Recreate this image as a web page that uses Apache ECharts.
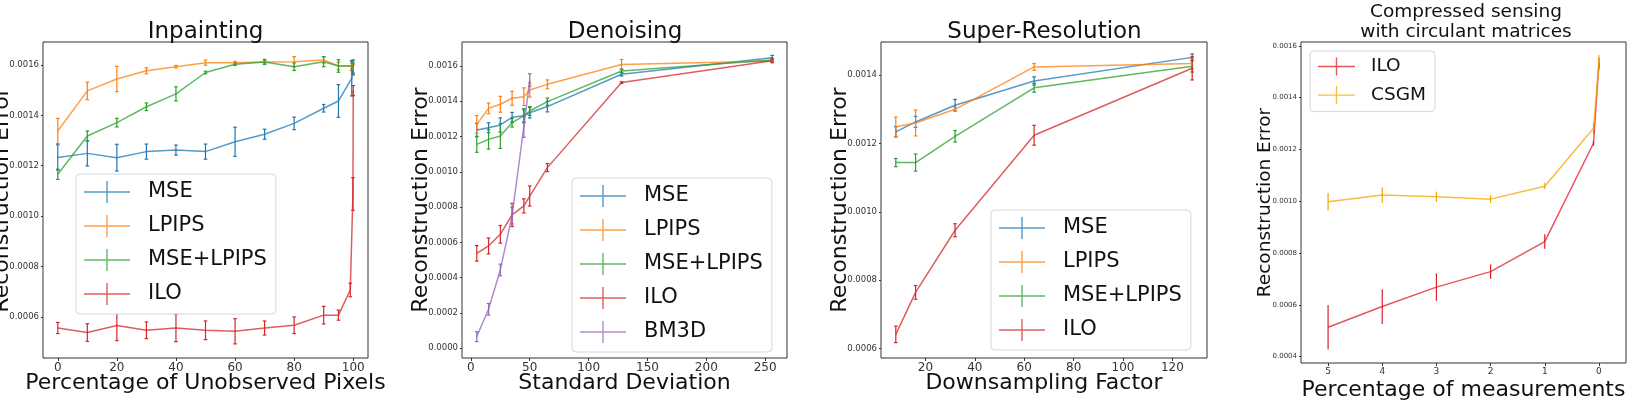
<!DOCTYPE html>
<html>
<head>
<meta charset="utf-8">
<title>Reconstruction error</title>
<script src="https://cdn.jsdelivr.net/npm/echarts@6/dist/echarts.min.js"></script>
<style>
  html, body { margin: 0; padding: 0; background: #fff; }
  #chart { width: 1635px; height: 400px; }
</style>
</head>
<body>
<div id="chart"></div>
<script>
// Inpainting
const inpX = [0, 10, 20, 30, 40, 50, 60, 70, 80, 90, 95, 99.5, 100]
const inpMse = [0.001233, 0.001249, 0.001232, 0.001256, 0.001262, 0.001256, 0.001295, 0.001325, 0.001368, 0.001428, 0.001457, 0.001547, 0.00159]
const inpMseErr = [0.00005, 0.00005, 0.000053, 0.00003, 0.00002, 0.00003, 0.000058, 0.00002, 0.000025, 0.000015, 0.000065, 0.00007, 0.00003]
const inpLpips = [0.001338, 0.001497, 0.001544, 0.001577, 0.001593, 0.001609, 0.001609, 0.001612, 0.001613, 0.00162, 0.001596, 0.001596, 0.00158]
const inpLpipsErr = [0.00005, 0.000035, 0.00005, 0.000012, 0.000005, 0.00001, 0.000005, 0.000005, 0.00002, 0.000013, 0.000015, 0.00001, 0.00002]
const inpBoth = [0.001166, 0.001318, 0.001371, 0.001434, 0.001485, 0.00157, 0.001603, 0.001612, 0.001593, 0.001613, 0.001596, 0.001596, 0.001587]
const inpBothErr = [0.00002, 0.00002, 0.000017, 0.000015, 0.000028, 0.000005, 0.000005, 0.00001, 0.000015, 0.00002, 0.000025, 0.000018, 0.00002]
const inpIloX = [0, 10, 20, 30, 40, 50, 60, 70, 80, 90, 95, 99, 99.9, 100]
const inpIlo = [0.000556, 0.000538, 0.000566, 0.000547, 0.000556, 0.000547, 0.000543, 0.000556, 0.000567, 0.000607, 0.000607, 0.000707, 0.001088, 0.001498]
const inpIloErr = [0.000022, 0.000035, 0.00006, 0.000033, 0.000054, 0.000037, 0.00005, 0.000028, 0.000033, 0.000035, 0.00002, 0.000027, 0.000065, 0.00002]
const inpXTicks = [0, 20, 40, 60, 80, 100]
const inpYTicks = [0.0006, 0.0008, 0.001, 0.0012, 0.0014, 0.0016]

// Denoising
const denX = [5, 15, 25, 35, 45, 50, 65, 128, 256]
const denMse = [0.001237, 0.00125, 0.001266, 0.001309, 0.001318, 0.001335, 0.00137, 0.001553, 0.001647]
const denMseErr = [0.000038, 0.000028, 0.00004, 0.000028, 0.00004, 0.00003, 0.00003, 0.00001, 0.000013]
const denLpips = [0.001269, 0.00136, 0.001383, 0.001417, 0.001426, 0.001464, 0.001496, 0.001609, 0.001628]
const denLpipsErr = [0.00005, 0.00003, 0.000045, 0.00004, 0.00005, 0.00004, 0.000025, 0.000028, 0.00001]
const denBoth = [0.001156, 0.001184, 0.001203, 0.001279, 0.001317, 0.001345, 0.001398, 0.001572, 0.001634]
const denBothErr = [0.000045, 0.000055, 0.00007, 0.000025, 0.000033, 0.000025, 0.00002, 0.00001, 0.00001]
const denIlo = [0.000538, 0.00058, 0.000646, 0.000756, 0.000807, 0.000863, 0.001024, 0.001506, 0.00163]
const denIloErr = [0.000044, 0.000045, 0.00005, 0.000066, 0.00004, 0.000057, 0.000023, 0.000005, 0.00001]
const denBm3dX = [5, 15, 25, 35, 45, 50]
const denBm3d = [0.000066, 0.000221, 0.000444, 0.000752, 0.001256, 0.001521]
const denBm3dErr = [0.000028, 0.000033, 0.000033, 0.000047, 0.00006, 0.000035]
const denXTicks = [0, 50, 100, 150, 200, 250]
const denYTicks = [0, 0.0002, 0.0004, 0.0006, 0.0008, 0.001, 0.0012, 0.0014, 0.0016]

// Super-Resolution
const srX = [8, 16, 32, 64, 128]
const srMse = [0.001234, 0.001263, 0.001312, 0.001383, 0.001452]
const srMseErr = [0.000015, 0.000016, 0.000017, 0.000012, 0.00001]
const srLpips = [0.001249, 0.00126, 0.0013, 0.001424, 0.001434]
const srLpipsErr = [0.000028, 0.000038, 0.000006, 0.00001, 0.000015]
const srBoth = [0.001144, 0.001144, 0.001221, 0.001363, 0.001426]
const srBothErr = [0.000012, 0.000025, 0.000017, 0.000013, 0.000017]
const srIlo = [0.000641, 0.000764, 0.000946, 0.001224, 0.00142]
const srIloErr = [0.000024, 0.00002, 0.000019, 0.000029, 0.000034]
const srXTicks = [20, 40, 60, 80, 100, 120]
const srYTicks = [0.0006, 0.0008, 0.001, 0.0012, 0.0014]

// Compressed sensing
const csX = [5, 4, 3, 2, 1, 0.1, 0]
const csIlo = [0.000513, 0.000593, 0.000668, 0.000728, 0.000844, 0.001224, 0.001534]
const csIloErr = [0.000086, 0.000067, 0.000053, 0.000028, 0.000028, 0.00001, 0.00002]
const csCsgm = [0.000998, 0.001024, 0.001017, 0.001008, 0.001058, 0.001282, 0.001535]
const csCsgmErr = [0.000034, 0.00003, 0.00002, 0.000015, 0.000012, 0.000022, 0.00003]
const csXTicks = [0, 1, 2, 3, 4, 5]
const csYTicks = [0.0004, 0.0006, 0.0008, 0.001, 0.0012, 0.0014, 0.0016]

const FONT = 'DejaVu Sans'
const colors = {
  MSE: '#1f77b4',
  LPIPS: '#ff7f0e',
  'MSE+LPIPS': '#2ca02c',
  ILO: '#d62728',
  BM3D: '#9467bd',
  csIlo: '#de1f26',
  CSGM: '#f5a500'
}

const crossIcon = (w, h) => {
  const m = h / 2, c = w / 2
  return `path://M0,${m - 0.7}H${w}V${m + 0.7}H0Z M${c - 0.7},0H${c + 0.7}V${h}H${c - 0.7}Z`
}

const series = []
const addCurve = (name, idx, xs, ys, es, color, cap) => {
  series.push({
    name,
    type: 'line',
    xAxisIndex: idx,
    yAxisIndex: idx,
    data: xs.map((x, i) => [x, ys[i]]),
    showSymbol: false,
    silent: true,
    lineStyle: { color, width: 1.5, opacity: 0.75 },
    itemStyle: { color }
  })
  series.push({
    name,
    type: 'custom',
    xAxisIndex: idx,
    yAxisIndex: idx,
    silent: true,
    encode: { x: 0, y: 1 },
    data: xs.map((x, i) => [x, ys[i], es[i]]),
    renderItem: (params, api) => {
      const x = api.value(0), y = api.value(1), e = api.value(2)
      const top = api.coord([x, y + e])
      const bot = api.coord([x, y - e])
      const style = { stroke: color, lineWidth: 1.2 }
      const children = [{ type: 'line', shape: { x1: top[0], y1: top[1], x2: bot[0], y2: bot[1] }, style }]
      if (cap) {
        children.push({ type: 'line', shape: { x1: top[0] - 1.8, y1: top[1], x2: top[0] + 1.8, y2: top[1] }, style })
        children.push({ type: 'line', shape: { x1: bot[0] - 1.8, y1: bot[1], x2: bot[0] + 1.8, y2: bot[1] }, style })
      }
      return { type: 'group', children }
    }
  })
}

addCurve('MSE', 0, inpX, inpMse, inpMseErr, colors.MSE, true)
addCurve('LPIPS', 0, inpX, inpLpips, inpLpipsErr, colors.LPIPS, true)
addCurve('MSE+LPIPS', 0, inpX, inpBoth, inpBothErr, colors['MSE+LPIPS'], true)
addCurve('ILO', 0, inpIloX, inpIlo, inpIloErr, colors.ILO, true)

addCurve('MSE', 1, denX, denMse, denMseErr, colors.MSE, true)
addCurve('LPIPS', 1, denX, denLpips, denLpipsErr, colors.LPIPS, true)
addCurve('MSE+LPIPS', 1, denX, denBoth, denBothErr, colors['MSE+LPIPS'], true)
addCurve('ILO', 1, denX, denIlo, denIloErr, colors.ILO, true)
addCurve('BM3D', 1, denBm3dX, denBm3d, denBm3dErr, colors.BM3D, true)

addCurve('MSE', 2, srX, srMse, srMseErr, colors.MSE, true)
addCurve('LPIPS', 2, srX, srLpips, srLpipsErr, colors.LPIPS, true)
addCurve('MSE+LPIPS', 2, srX, srBoth, srBothErr, colors['MSE+LPIPS'], true)
addCurve('ILO', 2, srX, srIlo, srIloErr, colors.ILO, true)

addCurve('ILO', 3, csX, csIlo, csIloErr, colors.csIlo, false)
addCurve('CSGM', 3, csX, csCsgm, csCsgmErr, colors.CSGM, false)

const grids = [
  { left: 43, top: 42, width: 325, height: 316 },
  { left: 462, top: 42, width: 325, height: 316 },
  { left: 881, top: 42, width: 326, height: 316 },
  { left: 1301, top: 42, width: 325, height: 321 }
]

const makeX = (idx, min, max, ticks, name, extra) => Object.assign({
  type: 'value',
  gridIndex: idx,
  min,
  max,
  name,
  nameLocation: 'middle',
  nameGap: 14,
  nameMoveOverlap: false,
  nameTextStyle: { fontFamily: FONT, fontSize: 22, color: '#111' },
  axisLine: { show: false, onZero: false },
  axisTick: { show: true, customValues: ticks, length: 3, lineStyle: { color: '#333' } },
  axisLabel: { customValues: ticks, fontFamily: FONT, fontSize: 12, color: '#333', margin: 4 },
  splitLine: { show: false }
}, extra || {})

const makeY = (idx, min, max, ticks, fontSize, nameSize, gap) => ({
  type: 'value',
  gridIndex: idx,
  min,
  max,
  name: 'Reconstruction Error',
  nameLocation: 'middle',
  nameGap: gap,
  nameMoveOverlap: false,
  nameTextStyle: { fontFamily: FONT, fontSize: nameSize, color: '#111' },
  axisLine: { show: false, onZero: false },
  axisTick: { show: true, customValues: ticks, length: 2, lineStyle: { color: '#333' } },
  axisLabel: { customValues: ticks, fontFamily: FONT, fontSize, color: '#333', margin: 4, formatter: v => v.toFixed(4) },
  splitLine: { show: false }
})

const makeLegend = (items, left, top, opts) => Object.assign({
  orient: 'vertical',
  left,
  top,
  selectedMode: false,
  icon: crossIcon(46, 22),
  itemWidth: 46,
  itemHeight: 22,
  itemGap: 12,
  padding: [7, 9, 9, 8],
  backgroundColor: '#fff',
  borderColor: '#d6d6d6',
  borderWidth: 1,
  borderRadius: 4,
  textStyle: { fontFamily: FONT, fontSize: 21, color: '#111', lineHeight: 22, padding: [0, 0, 0, 13] },
  data: items.map(d => ({ name: d.n, itemStyle: { color: d.c, opacity: 0.75 } }))
}, opts || {})

const titleStyle = { fontFamily: FONT, fontSize: 23, fontWeight: 'normal', color: '#111' }

const chart = echarts.init(document.getElementById('chart'))
chart.setOption({
  animation: false,
  backgroundColor: '#fff',
  title: [
    { text: 'Inpainting', left: 205.5, top: 21, textAlign: 'center', padding: 0, textStyle: titleStyle },
    { text: 'Denoising', left: 625, top: 21, textAlign: 'center', padding: 0, textStyle: titleStyle },
    { text: 'Super-Resolution', left: 1044.5, top: 21, textAlign: 'center', padding: 0, textStyle: titleStyle },
    { text: 'Compressed sensing\nwith circulant matrices', left: 1466, top: 2.5, textAlign: 'center', padding: 0, textStyle: { fontFamily: FONT, fontSize: 18.5, lineHeight: 20, fontWeight: 'normal', color: '#111' } }
  ],
  grid: grids.map(g => Object.assign({ show: true, borderColor: '#333', borderWidth: 1, backgroundColor: '#fff', outerBoundsMode: 'none' }, g)),
  xAxis: [
    makeX(0, -5, 105, inpXTicks, 'Percentage of Unobserved Pixels'),
    makeX(1, -7.55, 268.55, denXTicks, 'Standard Deviation'),
    makeX(2, 2, 134, srXTicks, 'Downsampling Factor'),
    makeX(3, -0.5, 5.5, csXTicks, 'Percentage of measurements', {
      inverse: true,
      nameGap: 16,
      axisLabel: { customValues: csXTicks, fontFamily: FONT, fontSize: 9, color: '#333', margin: 4 }
    })
  ],
  yAxis: [
    makeY(0, 0.000437, 0.001691, inpYTicks, 8.5, 22, 30),
    makeY(1, -0.000055, 0.001736, denYTicks, 8.5, 22, 30),
    makeY(2, 0.000572, 0.001497, srYTicks, 8.5, 22, 30),
    makeY(3, 0.000375, 0.001615, csYTicks, 7, 18.5, 26)
  ],
  legend: [
    makeLegend([{ n: 'MSE', c: colors.MSE }, { n: 'LPIPS', c: colors.LPIPS }, { n: 'MSE+LPIPS', c: colors['MSE+LPIPS'] }, { n: 'ILO', c: colors.ILO }], 76, 174),
    makeLegend([{ n: 'MSE', c: colors.MSE }, { n: 'LPIPS', c: colors.LPIPS }, { n: 'MSE+LPIPS', c: colors['MSE+LPIPS'] }, { n: 'ILO', c: colors.ILO }, { n: 'BM3D', c: colors.BM3D }], 572, 178),
    makeLegend([{ n: 'MSE', c: colors.MSE }, { n: 'LPIPS', c: colors.LPIPS }, { n: 'MSE+LPIPS', c: colors['MSE+LPIPS'] }, { n: 'ILO', c: colors.ILO }], 991, 210),
    makeLegend([{ n: 'ILO', c: colors.csIlo }, { n: 'CSGM', c: colors.CSGM }], 1310, 51, {
      icon: crossIcon(37, 18),
      itemWidth: 37,
      itemHeight: 18,
      itemGap: 9.6,
      padding: [6, 9, 7, 8],
      textStyle: { fontFamily: FONT, fontSize: 18.5, color: '#111', lineHeight: 18, padding: [0, 0, 0, 11] }
    })
  ],
  series
})
</script>
</body>
</html>
